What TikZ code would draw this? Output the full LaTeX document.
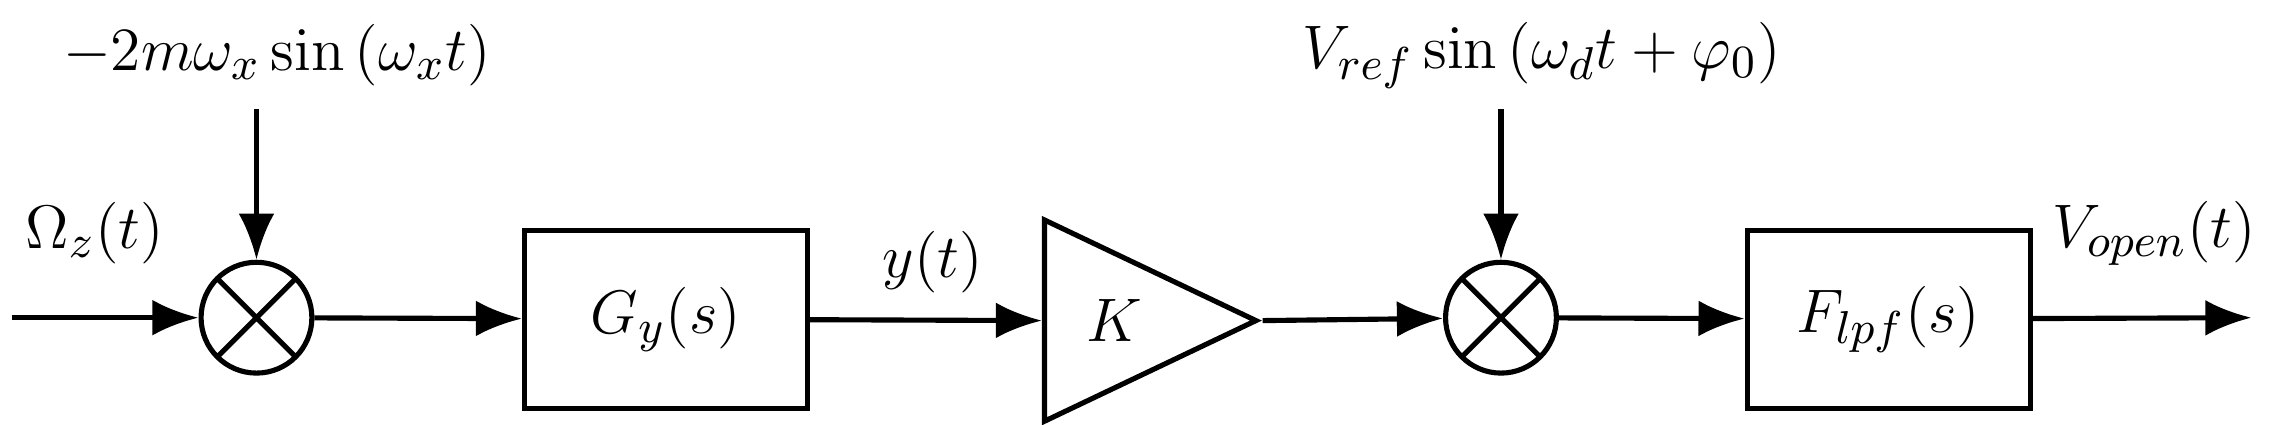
\documentclass[tikz,border=0pt]{standalone}
\usetikzlibrary{arrows.meta,shapes.geometric}
\begin{document}
\begin{tikzpicture}[x=0.01cm,y=-0.01cm,line width=1pt,
  every node/.style={font=\fontsize{13}{15}\selectfont},
  mult/.style={circle,draw,minimum size=0.76cm,inner sep=0pt,path picture={\draw (path picture bounding box.north west)--(path picture bounding box.south east) (path picture bounding box.north east)--(path picture bounding box.south west);}},
  blk/.style={draw,minimum width=1.94cm,minimum height=1.22cm},
  amp/.style={draw,isosceles triangle,isosceles triangle stretches,minimum width=1.38cm,minimum height=1.45cm,inner sep=0pt,anchor=west},
  arr/.style={-{Latex[length=9pt,width=7pt]}}]
\useasboundingbox (0,0) rectangle (1568,291);
\coordinate (in) at (8,218);
\node[mult] (m1) at (176,218) {};
\coordinate (t1) at (176,75);
\node (l1) at (190,38) {$-2m\omega_x\sin\left(\omega_x t\right)$};
\node[blk] (g) at (457,219) {$G_y(s)$};
\node[amp] (k) at (715,220) {};
\node at (765,220) {$K$};
\node[mult] (m2) at (1030,218) {};
\coordinate (t2) at (1030,75);
\node (l2) at (1058,38) {$V_{ref}\sin\left(\omega_d t+\varphi_0\right)$};
\node[blk] (f) at (1296,219) {$F_{lpf}(s)$};
\coordinate (out) at (1545,218);
\node at (65,160) {$\Omega_z(t)$};
\node at (640,180) {$y(t)$};
\node at (1478,160) {$V_{open}(t)$};
\draw[arr] (in) -- (m1);
\draw[arr] (t1) -- (m1);
\draw[arr] (m1) -- (g);
\draw[arr] (g) -- (k.west);
\draw[arr] (k.apex) -- (m2);
\draw[arr] (t2) -- (m2);
\draw[arr] (m2) -- (f);
\draw[arr] (f) -- (out);
\end{tikzpicture}
\end{document}
